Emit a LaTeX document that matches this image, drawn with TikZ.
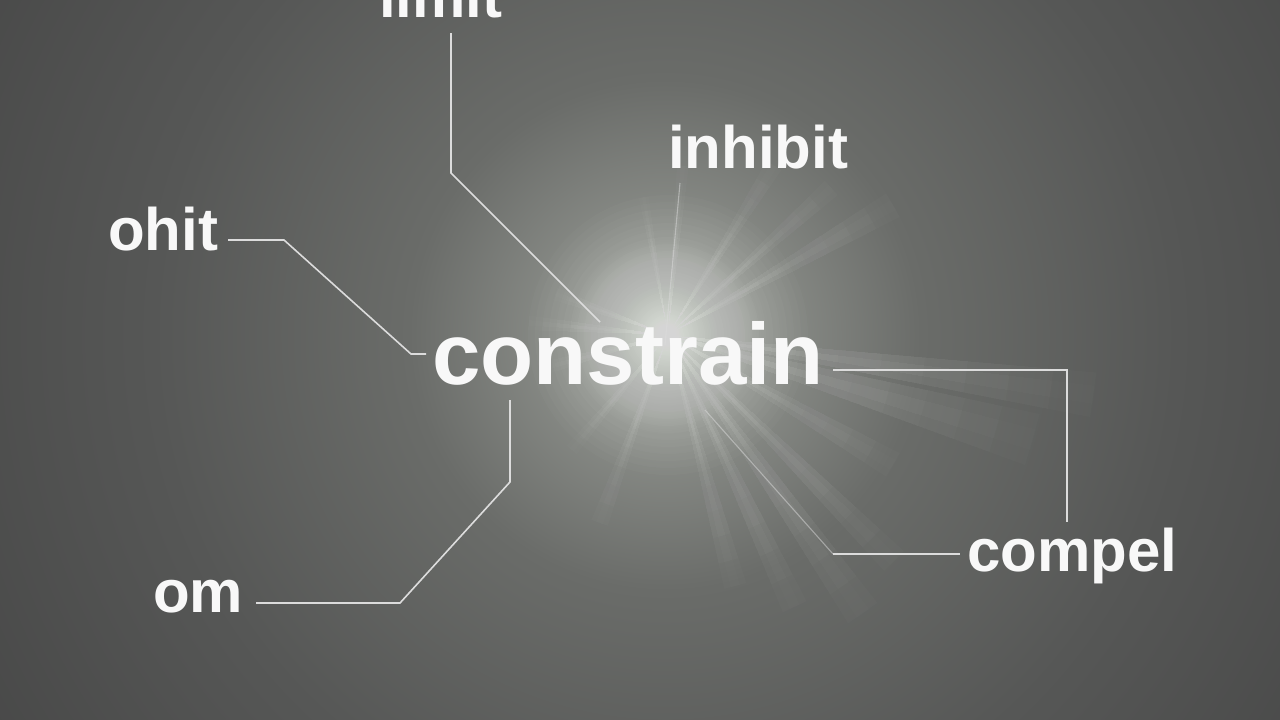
\documentclass[tikz,border=0pt]{standalone}
\usepackage{fontspec}
\setmainfont{Liberation Sans}
\usetikzlibrary{calc}
\definecolor{g0}{RGB}{200,205,198}
\definecolor{g1}{RGB}{140,143,138}
\definecolor{g2}{RGB}{106,108,105}
\definecolor{g3}{RGB}{86,87,86}
\definecolor{g4}{RGB}{64,64,64}
\definecolor{g5}{RGB}{44,44,44}
\definecolor{linec}{RGB}{220,220,220}
\definecolor{txt}{RGB}{248,248,248}
\pgfdeclareradialshading{glowbg}{\pgfpoint{0bp}{0bp}}{color(0bp)=(g0); color(3bp)=(g1); color(8bp)=(g2); color(16bp)=(g3); color(30bp)=(g4); color(50bp)=(g5)}
\begin{document}
\begin{tikzpicture}[x=1pt,y=-1pt,
  lbl/.style={text=txt, font=\fontsize{60}{62}\selectfont\bfseries, inner sep=0pt, anchor=base west},
  big/.style={lbl, font=\fontsize{87}{90}\selectfont\bfseries},
  conn/.style={draw=linec, line width=1.6pt, line join=miter},
  faint/.style={draw=linec, line width=1.1pt, opacity=0.5}]
\useasboundingbox (0,0) rectangle (1280,720);
\fill[g5] (0,0) rectangle (1280,720);
\begin{scope}
  \clip (0,0) rectangle (1280,720);
  \shade[shading=glowbg] (665,335) circle (800);
  \coordinate (ctr) at (668,335);
  \foreach \a/\L/\w in {8/430/3, 16/380/4, 45/320/2.5, 55/340/3, 65/300/2.5, 75/260/2.5,
                        -30/260/3, -42/220/2.5, -58/200/2.5, -85/170/2, -100/140/2,
                        185/140/3, 165/130/3, 200/120/3, 110/200/2.5, 130/150/2.5, 30/260/3}{
    \foreach \k in {1,0.9,0.8,0.7,0.6,0.5,0.4,0.3,0.2,0.1}{
      \fill[white, opacity=0.015] (ctr) -- +(\a-\w:\k*\L) -- +(\a+\w:\k*\L) -- cycle;
      \fill[white, opacity=0.01] (ctr) -- +(\a-0.4*\w:\k*\L) -- +(\a+0.4*\w:\k*\L) -- cycle;
    }
  }
  \foreach \r in {140,133,126,119,112,105,98,91,84,77,70,63,56,49,43,37,31,26,21,16,12,8,5}{
    \fill[white, opacity=0.022] (ctr) circle (\r);
  }
\end{scope}

% labels
\node[lbl] (limit) at (379,17) {limit};
\node[lbl] (inhibit) at (668,168) {inhibit};
\node[lbl] (ohit) at (108,250) {ohit};
\node[lbl] (om) at (153,612) {om};
\node[lbl] (compel) at (967,571) {compel};
\node[big] (constrain) at (432,384) {constrain};

% connector points
\coordinate (l1) at (451,33);
\coordinate (l2) at (451,173);
\coordinate (l3) at (600,322);
\coordinate (o1) at (228,240);
\coordinate (o2) at (284,240);
\coordinate (o3) at (411,354);
\coordinate (o4) at (426,354);
\coordinate (i1) at (680,183);
\coordinate (i2) at (665,345);
\coordinate (m1) at (510,400);
\coordinate (m2) at (510,482);
\coordinate (m3) at (400,603);
\coordinate (m4) at (256,603);
\coordinate (c1) at (833,370);
\coordinate (c2) at (1067,370);
\coordinate (c3) at (1067,522);
\coordinate (p1) at (705,410);
\coordinate (p2) at (833,554);
\coordinate (p3) at (960,554);

\draw[conn] (l1) -- (l2) -- (l3);
\draw[conn] (o1) -- (o2) -- (o3) -- (o4);
\draw[faint] (i1) -- (i2);
\draw[conn] (m1) -- (m2) -- (m3) -- (m4);
\draw[conn] (c1) -- (c2) -- (c3);
\draw[faint] (p1) -- (p2);
\draw[conn] (p2) -- (p3);
\end{tikzpicture}
\end{document}
